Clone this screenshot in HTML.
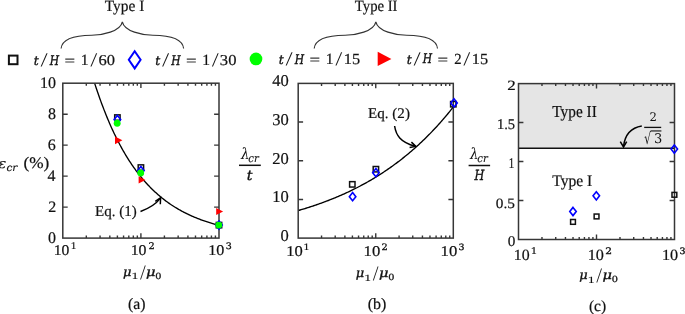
<!DOCTYPE html><html><head><meta charset="utf-8"><title>figure</title><style>html,body{margin:0;padding:0;background:#fff;overflow:hidden}svg{display:block}</style></head><body><svg width="685" height="314" viewBox="0 0 685 314">
<rect width="685" height="314" fill="#fff"/>
<path d="M61.10 48.50 C62.10 38.50 76.10 35.50 91.72 35.30 C102.35 35.10 120.35 31.50 122.35 21.80 C124.35 31.50 142.35 35.10 152.97 35.30 C168.60 35.50 182.60 38.50 183.60 48.50" fill="none" stroke="#333" stroke-width="1.15"/>
<path d="M314.20 48.50 C315.20 38.50 329.20 35.50 345.02 35.30 C355.85 35.10 373.85 31.50 375.85 21.80 C377.85 31.50 395.85 35.10 406.68 35.30 C422.50 35.50 436.50 38.50 437.50 48.50" fill="none" stroke="#333" stroke-width="1.15"/>
<rect x="8.9" y="55.6" width="8.6" height="8.6" fill="none" stroke="#111" stroke-width="2"/>
<path d="M134.7 51.2L140.6 59.8L134.7 68.4L128.8 59.8Z" fill="none" stroke="#0000ff" stroke-width="2"/>
<circle cx="256.00" cy="58.95" r="6.35" fill="#00ff00"/>
<path d="M377.7 51.8L391.4 58.9L377.7 66Z" fill="#ff0000"/>
<path d="M94.63 83.20 L95.41 85.60 L96.18 87.95 L96.96 90.28 L97.74 92.56 L98.52 94.81 L99.29 97.03 L100.07 99.21 L100.85 101.36 L101.62 103.47 L102.40 105.55 L103.18 107.60 L103.96 109.62 L104.73 111.61 L105.51 113.56 L106.29 115.49 L107.07 117.38 L107.84 119.25 L108.62 121.09 L109.40 122.90 L110.18 124.68 L110.95 126.43 L111.73 128.16 L112.51 129.86 L113.28 131.53 L114.06 133.18 L114.84 134.80 L115.62 136.40 L116.39 137.97 L117.17 139.52 L117.95 141.05 L118.73 142.55 L119.50 144.02 L120.28 145.48 L121.06 146.91 L121.84 148.32 L122.61 149.71 L123.39 151.08 L124.17 152.42 L124.94 153.75 L125.72 155.05 L126.50 156.34 L127.28 157.60 L128.05 158.84 L128.83 160.07 L129.61 161.28 L130.39 162.46 L131.16 163.63 L131.94 164.79 L132.72 165.92 L133.49 167.04 L134.27 168.13 L135.05 169.22 L135.83 170.28 L136.60 171.33 L137.38 172.36 L138.16 173.38 L138.94 174.38 L139.71 175.36 L140.49 176.34 L141.27 177.29 L142.05 178.23 L142.82 179.16 L143.60 180.07 L144.38 180.96 L145.15 181.85 L145.93 182.72 L146.71 183.57 L147.49 184.42 L148.26 185.25 L149.04 186.07 L149.82 186.87 L150.60 187.66 L151.37 188.44 L152.15 189.21 L152.93 189.97 L153.71 190.71 L154.48 191.44 L155.26 192.16 L156.04 192.87 L156.81 193.57 L157.59 194.26 L158.37 194.94 L159.15 195.61 L159.92 196.26 L160.70 196.91 L161.48 197.55 L162.26 198.18 L163.03 198.79 L163.81 199.40 L164.59 200.00 L165.37 200.59 L166.14 201.17 L166.92 201.74 L167.70 202.30 L168.47 202.86 L169.25 203.40 L170.03 203.94 L170.81 204.46 L171.58 204.99 L172.36 205.50 L173.14 206.00 L173.92 206.50 L174.69 206.99 L175.47 207.47 L176.25 207.94 L177.02 208.41 L177.80 208.87 L178.58 209.32 L179.36 209.76 L180.13 210.20 L180.91 210.63 L181.69 211.06 L182.47 211.48 L183.24 211.89 L184.02 212.29 L184.80 212.69 L185.58 213.08 L186.35 213.47 L187.13 213.85 L187.91 214.23 L188.68 214.60 L189.46 214.96 L190.24 215.32 L191.02 215.67 L191.79 216.02 L192.57 216.36 L193.35 216.69 L194.13 217.03 L194.90 217.35 L195.68 217.67 L196.46 217.99 L197.24 218.30 L198.01 218.61 L198.79 218.91 L199.57 219.20 L200.34 219.50 L201.12 219.78 L201.90 220.07 L202.68 220.35 L203.45 220.62 L204.23 220.89 L205.01 221.16 L205.79 221.42 L206.56 221.68 L207.34 221.93 L208.12 222.18 L208.89 222.43 L209.67 222.67 L210.45 222.91 L211.23 223.14 L212.00 223.37 L212.78 223.60 L213.56 223.83 L214.34 224.05 L215.11 224.26 L215.89 224.48 L216.67 224.69 L217.45 224.90 L218.22 225.10 L219.00 225.30" fill="none" stroke="#000" stroke-width="1.35"/>
<path d="M86.31 238.10L86.31 235.60 M86.31 83.20L86.31 85.70 M100.06 238.10L100.06 235.60 M100.06 83.20L100.06 85.70 M109.82 238.10L109.82 235.60 M109.82 83.20L109.82 85.70 M117.39 238.10L117.39 235.60 M117.39 83.20L117.39 85.70 M123.57 238.10L123.57 235.60 M123.57 83.20L123.57 85.70 M128.80 238.10L128.80 235.60 M128.80 83.20L128.80 85.70 M133.33 238.10L133.33 235.60 M133.33 83.20L133.33 85.70 M137.33 238.10L137.33 235.60 M137.33 83.20L137.33 85.70 M140.90 238.10L140.90 233.20 M140.90 83.20L140.90 88.10 M164.41 238.10L164.41 235.60 M164.41 83.20L164.41 85.70 M178.16 238.10L178.16 235.60 M178.16 83.20L178.16 85.70 M187.92 238.10L187.92 235.60 M187.92 83.20L187.92 85.70 M195.49 238.10L195.49 235.60 M195.49 83.20L195.49 85.70 M201.67 238.10L201.67 235.60 M201.67 83.20L201.67 85.70 M206.90 238.10L206.90 235.60 M206.90 83.20L206.90 85.70 M211.43 238.10L211.43 235.60 M211.43 83.20L211.43 85.70 M215.43 238.10L215.43 235.60 M215.43 83.20L215.43 85.70 M62.80 207.12L67.70 207.12 M219.00 207.12L214.10 207.12 M62.80 176.14L67.70 176.14 M219.00 176.14L214.10 176.14 M62.80 145.16L67.70 145.16 M219.00 145.16L214.10 145.16 M62.80 114.18L67.70 114.18 M219.00 114.18L214.10 114.18" stroke="#363636" stroke-width="1.40" fill="none"/>
<rect x="62.80" y="83.20" width="156.20" height="154.90" fill="none" stroke="#363636" stroke-width="1.50"/>
<rect x="114.69" y="114.85" width="5.40" height="5.40" fill="none" stroke="#111" stroke-width="1.50"/>
<rect x="138.20" y="164.85" width="5.40" height="5.40" fill="none" stroke="#111" stroke-width="1.50"/>
<rect x="216.30" y="222.40" width="5.40" height="5.40" fill="none" stroke="#111" stroke-width="1.50"/>
<path d="M117.39 115.40L120.64 119.50L117.39 123.60L114.14 119.50Z" fill="none" stroke="#0000ff" stroke-width="1.60"/>
<path d="M140.90 166.50L144.15 170.60L140.90 174.70L137.65 170.60Z" fill="none" stroke="#0000ff" stroke-width="1.60"/>
<path d="M219.00 221.00L222.25 225.10L219.00 229.20L215.75 225.10Z" fill="none" stroke="#0000ff" stroke-width="1.60"/>
<circle cx="117.19" cy="123.30" r="3.45" fill="#00ff00"/>
<circle cx="140.70" cy="173.00" r="3.45" fill="#00ff00"/>
<circle cx="218.80" cy="225.10" r="3.45" fill="#00ff00"/>
<path d="M115.00 136.40L122.40 140.30L115.00 144.20Z" fill="#ff0000"/>
<path d="M138.60 176.20L145.40 179.90L138.60 183.60Z" fill="#ff0000"/>
<path d="M216.20 208.00L223.10 211.55L216.20 215.10Z" fill="#ff0000"/>
<path d="M140.5 211.5 C146 209.5 154 206.5 160.3 198.4" fill="none" stroke="#000" stroke-width="1.5"/>
<path d="M155.3 201.4 L160.6 197.8 L160.3 204.2" fill="none" stroke="#000" stroke-width="1.5"/>
<path d="M298.20 210.55 L299.17 210.27 L300.14 209.99 L301.11 209.71 L302.08 209.42 L303.05 209.13 L304.02 208.83 L304.99 208.54 L305.95 208.24 L306.92 207.94 L307.89 207.63 L308.86 207.32 L309.83 207.01 L310.80 206.70 L311.77 206.38 L312.74 206.06 L313.71 205.74 L314.68 205.41 L315.65 205.08 L316.62 204.75 L317.59 204.41 L318.56 204.07 L319.53 203.73 L320.50 203.39 L321.46 203.04 L322.43 202.68 L323.40 202.33 L324.37 201.97 L325.34 201.61 L326.31 201.24 L327.28 200.87 L328.25 200.50 L329.22 200.12 L330.19 199.74 L331.16 199.36 L332.13 198.97 L333.10 198.58 L334.07 198.18 L335.04 197.78 L336.01 197.38 L336.98 196.98 L337.94 196.57 L338.91 196.15 L339.88 195.73 L340.85 195.31 L341.82 194.89 L342.79 194.45 L343.76 194.02 L344.73 193.58 L345.70 193.14 L346.67 192.69 L347.64 192.24 L348.61 191.79 L349.58 191.33 L350.55 190.86 L351.52 190.40 L352.49 189.92 L353.45 189.45 L354.42 188.96 L355.39 188.48 L356.36 187.99 L357.33 187.49 L358.30 186.99 L359.27 186.49 L360.24 185.98 L361.21 185.46 L362.18 184.94 L363.15 184.42 L364.12 183.89 L365.09 183.36 L366.06 182.82 L367.03 182.27 L368.00 181.72 L368.96 181.17 L369.93 180.61 L370.90 180.05 L371.87 179.48 L372.84 178.90 L373.81 178.32 L374.78 177.73 L375.75 177.14 L376.72 176.54 L377.69 175.94 L378.66 175.33 L379.63 174.72 L380.60 174.10 L381.57 173.47 L382.54 172.84 L383.50 172.21 L384.47 171.56 L385.44 170.91 L386.41 170.26 L387.38 169.60 L388.35 168.93 L389.32 168.26 L390.29 167.58 L391.26 166.89 L392.23 166.20 L393.20 165.50 L394.17 164.79 L395.14 164.08 L396.11 163.36 L397.08 162.64 L398.05 161.91 L399.01 161.17 L399.98 160.42 L400.95 159.67 L401.92 158.91 L402.89 158.15 L403.86 157.37 L404.83 156.59 L405.80 155.81 L406.77 155.01 L407.74 154.21 L408.71 153.40 L409.68 152.58 L410.65 151.76 L411.62 150.93 L412.59 150.09 L413.56 149.24 L414.52 148.39 L415.49 147.52 L416.46 146.65 L417.43 145.77 L418.40 144.89 L419.37 143.99 L420.34 143.09 L421.31 142.18 L422.28 141.26 L423.25 140.33 L424.22 139.40 L425.19 138.45 L426.16 137.50 L427.13 136.54 L428.10 135.57 L429.07 134.59 L430.04 133.60 L431.00 132.60 L431.97 131.60 L432.94 130.58 L433.91 129.56 L434.88 128.52 L435.85 127.48 L436.82 126.43 L437.79 125.36 L438.76 124.29 L439.73 123.21 L440.70 122.12 L441.67 121.02 L442.64 119.91 L443.61 118.79 L444.58 117.66 L445.55 116.51 L446.51 115.36 L447.48 114.20 L448.45 113.03 L449.42 111.85 L450.39 110.65 L451.36 109.45 L452.33 108.23 L453.30 107.01" fill="none" stroke="#000" stroke-width="1.35"/>
<path d="M321.54 238.10L321.54 235.60 M321.54 83.40L321.54 85.90 M335.20 238.10L335.20 235.60 M335.20 83.40L335.20 85.90 M344.89 238.10L344.89 235.60 M344.89 83.40L344.89 85.90 M352.41 238.10L352.41 235.60 M352.41 83.40L352.41 85.90 M358.55 238.10L358.55 235.60 M358.55 83.40L358.55 85.90 M363.74 238.10L363.74 235.60 M363.74 83.40L363.74 85.90 M368.23 238.10L368.23 235.60 M368.23 83.40L368.23 85.90 M372.20 238.10L372.20 235.60 M372.20 83.40L372.20 85.90 M375.75 238.10L375.75 233.20 M375.75 83.40L375.75 88.30 M399.09 238.10L399.09 235.60 M399.09 83.40L399.09 85.90 M412.75 238.10L412.75 235.60 M412.75 83.40L412.75 85.90 M422.44 238.10L422.44 235.60 M422.44 83.40L422.44 85.90 M429.96 238.10L429.96 235.60 M429.96 83.40L429.96 85.90 M436.10 238.10L436.10 235.60 M436.10 83.40L436.10 85.90 M441.29 238.10L441.29 235.60 M441.29 83.40L441.29 85.90 M445.78 238.10L445.78 235.60 M445.78 83.40L445.78 85.90 M449.75 238.10L449.75 235.60 M449.75 83.40L449.75 85.90 M298.20 199.43L303.10 199.43 M453.30 199.43L448.40 199.43 M298.20 160.75L303.10 160.75 M453.30 160.75L448.40 160.75 M298.20 122.07L303.10 122.07 M453.30 122.07L448.40 122.07" stroke="#363636" stroke-width="1.40" fill="none"/>
<rect x="298.20" y="83.40" width="155.10" height="154.70" fill="none" stroke="#363636" stroke-width="1.50"/>
<rect x="349.60" y="181.65" width="5.40" height="5.40" fill="none" stroke="#111" stroke-width="1.50"/>
<rect x="373.20" y="166.50" width="5.40" height="5.40" fill="none" stroke="#111" stroke-width="1.50"/>
<rect x="450.60" y="101.50" width="5.40" height="5.40" fill="none" stroke="#111" stroke-width="1.50"/>
<path d="M352.60 192.60L355.85 196.70L352.60 200.80L349.35 196.70Z" fill="none" stroke="#0000ff" stroke-width="1.60"/>
<path d="M375.90 168.60L379.15 172.70L375.90 176.80L372.65 172.70Z" fill="none" stroke="#0000ff" stroke-width="1.60"/>
<path d="M454.00 98.85L457.25 102.95L454.00 107.05L450.75 102.95Z" fill="none" stroke="#0000ff" stroke-width="1.60"/>
<path d="M394.6 126 C396 135 400 142 415.3 146.3" fill="none" stroke="#000" stroke-width="1.5"/>
<path d="M411.4 142.1 L415.8 146.4 L409.6 147.6" fill="none" stroke="#000" stroke-width="1.5"/>
<rect x="239.0" y="164.55" width="21.8" height="1.5" fill="#111"/>
<rect x="518.50" y="83.60" width="156.00" height="64.60" fill="#e5e5e5"/>
<path d="M518.50 148.20L674.50 148.20" stroke="#111" stroke-width="1.5"/>
<path d="M541.98 239.50L541.98 237.00 M541.98 83.60L541.98 86.10 M555.72 239.50L555.72 237.00 M555.72 83.60L555.72 86.10 M565.46 239.50L565.46 237.00 M565.46 83.60L565.46 86.10 M573.02 239.50L573.02 237.00 M573.02 83.60L573.02 86.10 M579.20 239.50L579.20 237.00 M579.20 83.60L579.20 86.10 M584.42 239.50L584.42 237.00 M584.42 83.60L584.42 86.10 M588.94 239.50L588.94 237.00 M588.94 83.60L588.94 86.10 M592.93 239.50L592.93 237.00 M592.93 83.60L592.93 86.10 M596.50 239.50L596.50 234.60 M596.50 83.60L596.50 88.50 M619.98 239.50L619.98 237.00 M619.98 83.60L619.98 86.10 M633.72 239.50L633.72 237.00 M633.72 83.60L633.72 86.10 M643.46 239.50L643.46 237.00 M643.46 83.60L643.46 86.10 M651.02 239.50L651.02 237.00 M651.02 83.60L651.02 86.10 M657.20 239.50L657.20 237.00 M657.20 83.60L657.20 86.10 M662.42 239.50L662.42 237.00 M662.42 83.60L662.42 86.10 M666.94 239.50L666.94 237.00 M666.94 83.60L666.94 86.10 M670.93 239.50L670.93 237.00 M670.93 83.60L670.93 86.10 M518.50 200.53L523.40 200.53 M674.50 200.53L669.60 200.53 M518.50 161.55L523.40 161.55 M674.50 161.55L669.60 161.55 M518.50 122.57L523.40 122.57 M674.50 122.57L669.60 122.57" stroke="#363636" stroke-width="1.40" fill="none"/>
<rect x="518.50" y="83.60" width="156.00" height="155.90" fill="none" stroke="#363636" stroke-width="1.50"/>
<rect x="570.60" y="219.50" width="4.80" height="4.80" fill="none" stroke="#111" stroke-width="1.50"/>
<rect x="594.15" y="214.05" width="4.80" height="4.80" fill="none" stroke="#111" stroke-width="1.50"/>
<rect x="672.00" y="192.40" width="4.80" height="4.80" fill="none" stroke="#111" stroke-width="1.50"/>
<path d="M573.00 207.40L576.25 211.50L573.00 215.60L569.75 211.50Z" fill="none" stroke="#0000ff" stroke-width="1.60"/>
<path d="M596.30 191.70L599.55 195.80L596.30 199.90L593.05 195.80Z" fill="none" stroke="#0000ff" stroke-width="1.60"/>
<path d="M674.30 145.00L677.55 149.10L674.30 153.20L671.05 149.10Z" fill="none" stroke="#0000ff" stroke-width="1.60"/>
<rect x="644.2" y="126.75" width="17" height="1.3" fill="#111"/>
<rect x="650.6" y="130.4" width="10.8" height="1.1" fill="#111"/>
<path d="M641.8 126 C632 127.5 625 134 623.5 146.5" fill="none" stroke="#000" stroke-width="1.5"/>
<path d="M620.3 141.7 L623.5 147 L626.7 141.7" fill="none" stroke="#000" stroke-width="1.5"/>
<rect x="468.6" y="164.75" width="21.5" height="1.5" fill="#111"/>
<g fill="#111" text-rendering="geometricPrecision">
<text x="104.79" y="10.88" font-size="15.81" font-family='"Liberation Serif", "Times New Roman", serif' textLength="39.51" lengthAdjust="spacingAndGlyphs" stroke="#111" stroke-width="0.20">Type I</text>
<text x="354.81" y="10.88" font-size="15.81" font-family='"Liberation Serif", "Times New Roman", serif' textLength="42.72" lengthAdjust="spacingAndGlyphs" stroke="#111" stroke-width="0.20">Type II</text>
<text x="33.72" y="64.61" font-size="12.52" font-family='"DejaVu Serif", serif' font-style="italic" textLength="4.94" lengthAdjust="spacingAndGlyphs" stroke="#111" stroke-width="0.35">t</text>
<text x="41.69" y="64.87" font-size="16.12" font-family='"DejaVu Serif Condensed", "DejaVu Serif", serif' font-style="italic" textLength="4.70" lengthAdjust="spacingAndGlyphs">/</text>
<text x="49.68" y="64.50" font-size="13.29" font-family='"DejaVu Serif Condensed", "DejaVu Serif", serif' font-style="italic" textLength="9.34" lengthAdjust="spacingAndGlyphs" stroke="#111" stroke-width="0.35">H</text>
<text x="63.87" y="65.10" font-size="14.29" font-family='"DejaVu Serif Condensed", "DejaVu Serif", serif' textLength="12.14" lengthAdjust="spacingAndGlyphs" fill="#3a3a3a">=</text>
<text x="80.71" y="64.80" font-size="15.57" font-family='"Liberation Serif", "Times New Roman", serif' stroke="#111" stroke-width="0.20">1</text>
<text x="91.55" y="64.87" font-size="16.12" font-family='"DejaVu Serif Condensed", "DejaVu Serif", serif' font-style="italic" textLength="4.57" lengthAdjust="spacingAndGlyphs">/</text>
<text x="98.46" y="64.65" font-size="15.11" font-family='"Liberation Serif", "Times New Roman", serif' textLength="16.50" lengthAdjust="spacingAndGlyphs" stroke="#111" stroke-width="0.20">60</text>
<text x="155.22" y="64.61" font-size="12.52" font-family='"DejaVu Serif", serif' font-style="italic" textLength="4.94" lengthAdjust="spacingAndGlyphs" stroke="#111" stroke-width="0.35">t</text>
<text x="163.19" y="64.87" font-size="16.12" font-family='"DejaVu Serif Condensed", "DejaVu Serif", serif' font-style="italic" textLength="4.70" lengthAdjust="spacingAndGlyphs">/</text>
<text x="171.18" y="64.50" font-size="13.29" font-family='"DejaVu Serif Condensed", "DejaVu Serif", serif' font-style="italic" textLength="9.34" lengthAdjust="spacingAndGlyphs" stroke="#111" stroke-width="0.35">H</text>
<text x="185.37" y="65.10" font-size="14.29" font-family='"DejaVu Serif Condensed", "DejaVu Serif", serif' textLength="12.14" lengthAdjust="spacingAndGlyphs" fill="#3a3a3a">=</text>
<text x="202.21" y="64.80" font-size="15.57" font-family='"Liberation Serif", "Times New Roman", serif' stroke="#111" stroke-width="0.20">1</text>
<text x="213.05" y="64.87" font-size="16.12" font-family='"DejaVu Serif Condensed", "DejaVu Serif", serif' font-style="italic" textLength="4.57" lengthAdjust="spacingAndGlyphs">/</text>
<text x="219.87" y="64.65" font-size="15.11" font-family='"Liberation Serif", "Times New Roman", serif' textLength="16.59" lengthAdjust="spacingAndGlyphs" stroke="#111" stroke-width="0.20">30</text>
<text x="278.72" y="63.61" font-size="12.52" font-family='"DejaVu Serif", serif' font-style="italic" textLength="4.94" lengthAdjust="spacingAndGlyphs" stroke="#111" stroke-width="0.35">t</text>
<text x="286.69" y="63.87" font-size="16.12" font-family='"DejaVu Serif Condensed", "DejaVu Serif", serif' font-style="italic" textLength="4.70" lengthAdjust="spacingAndGlyphs">/</text>
<text x="294.68" y="63.50" font-size="13.29" font-family='"DejaVu Serif Condensed", "DejaVu Serif", serif' font-style="italic" textLength="9.34" lengthAdjust="spacingAndGlyphs" stroke="#111" stroke-width="0.35">H</text>
<text x="308.87" y="64.10" font-size="14.29" font-family='"DejaVu Serif Condensed", "DejaVu Serif", serif' textLength="12.14" lengthAdjust="spacingAndGlyphs" fill="#3a3a3a">=</text>
<text x="325.71" y="63.80" font-size="15.57" font-family='"Liberation Serif", "Times New Roman", serif' stroke="#111" stroke-width="0.20">1</text>
<text x="336.55" y="63.87" font-size="16.12" font-family='"DejaVu Serif Condensed", "DejaVu Serif", serif' font-style="italic" textLength="4.57" lengthAdjust="spacingAndGlyphs">/</text>
<text x="343.73" y="63.65" font-size="15.34" font-family='"Liberation Serif", "Times New Roman", serif' textLength="16.32" lengthAdjust="spacingAndGlyphs" stroke="#111" stroke-width="0.20">15</text>
<text x="406.72" y="63.51" font-size="12.52" font-family='"DejaVu Serif", serif' font-style="italic" textLength="4.94" lengthAdjust="spacingAndGlyphs" stroke="#111" stroke-width="0.35">t</text>
<text x="414.69" y="63.77" font-size="16.12" font-family='"DejaVu Serif Condensed", "DejaVu Serif", serif' font-style="italic" textLength="4.70" lengthAdjust="spacingAndGlyphs">/</text>
<text x="422.68" y="63.40" font-size="13.29" font-family='"DejaVu Serif Condensed", "DejaVu Serif", serif' font-style="italic" textLength="9.34" lengthAdjust="spacingAndGlyphs" stroke="#111" stroke-width="0.35">H</text>
<text x="436.87" y="64.00" font-size="14.29" font-family='"DejaVu Serif Condensed", "DejaVu Serif", serif' textLength="12.14" lengthAdjust="spacingAndGlyphs" fill="#3a3a3a">=</text>
<text x="454.34" y="63.70" font-size="15.45" font-family='"Liberation Serif", "Times New Roman", serif' textLength="7.38" lengthAdjust="spacingAndGlyphs" stroke="#111" stroke-width="0.20">2</text>
<text x="464.55" y="63.77" font-size="16.12" font-family='"DejaVu Serif Condensed", "DejaVu Serif", serif' font-style="italic" textLength="4.57" lengthAdjust="spacingAndGlyphs">/</text>
<text x="471.73" y="63.55" font-size="15.34" font-family='"Liberation Serif", "Times New Roman", serif' textLength="16.32" lengthAdjust="spacingAndGlyphs" stroke="#111" stroke-width="0.20">15</text>
<text x="47.94" y="242.74" font-size="16.00" font-family='"Liberation Serif", "Times New Roman", serif' stroke="#111" stroke-width="0.20">0</text>
<text x="48.18" y="211.80" font-size="16.00" font-family='"Liberation Serif", "Times New Roman", serif' stroke="#111" stroke-width="0.20">2</text>
<text x="47.54" y="180.82" font-size="16.00" font-family='"Liberation Serif", "Times New Roman", serif' stroke="#111" stroke-width="0.20">4</text>
<text x="47.78" y="149.76" font-size="16.00" font-family='"Liberation Serif", "Times New Roman", serif' stroke="#111" stroke-width="0.20">6</text>
<text x="47.94" y="118.82" font-size="16.00" font-family='"Liberation Serif", "Times New Roman", serif' stroke="#111" stroke-width="0.20">8</text>
<text x="39.94" y="87.84" font-size="16.00" font-family='"Liberation Serif", "Times New Roman", serif' stroke="#111" stroke-width="0.20">10</text>
<text x="95.05" y="216.35" font-size="15.00" font-family='"Liberation Serif", "Times New Roman", serif' stroke="#111" stroke-width="0.20">Eq. (1)</text>
<text x="-1.56" y="167.73" font-size="13.39" font-family='"DejaVu Serif", serif' font-style="italic" textLength="7.80" lengthAdjust="spacingAndGlyphs" stroke="#111" stroke-width="0.15">ε</text>
<text x="6.42" y="171.45" font-size="10.18" font-family='"DejaVu Serif", serif' font-style="italic" textLength="10.98" lengthAdjust="spacingAndGlyphs" stroke="#111" stroke-width="0.15">cr</text>
<text x="23.42" y="168.22" font-size="16.11" font-family='"Liberation Serif", "Times New Roman", serif' textLength="25.83" lengthAdjust="spacingAndGlyphs" stroke="#111" stroke-width="0.20">(%)</text>
<text x="53.69" y="254.95" font-size="14.96" font-family='"Liberation Serif", "Times New Roman", serif' textLength="15.63" lengthAdjust="spacingAndGlyphs" stroke="#111" stroke-width="0.20">10</text>
<text x="70.58" y="249.40" font-size="9.13" font-family='"DejaVu Serif", serif' textLength="6.45" lengthAdjust="spacingAndGlyphs" stroke="#111" stroke-width="0.12">1</text>
<text x="130.67" y="254.95" font-size="14.96" font-family='"Liberation Serif", "Times New Roman", serif' textLength="15.86" lengthAdjust="spacingAndGlyphs" stroke="#111" stroke-width="0.20">10</text>
<text x="148.41" y="249.40" font-size="9.13" font-family='"DejaVu Serif", serif' textLength="6.23" lengthAdjust="spacingAndGlyphs" stroke="#111" stroke-width="0.30">2</text>
<text x="208.15" y="254.95" font-size="14.96" font-family='"Liberation Serif", "Times New Roman", serif' textLength="16.09" lengthAdjust="spacingAndGlyphs" stroke="#111" stroke-width="0.20">10</text>
<text x="225.69" y="249.27" font-size="8.95" font-family='"DejaVu Serif", serif' textLength="6.03" lengthAdjust="spacingAndGlyphs" stroke="#111" stroke-width="0.30">3</text>
<text x="122.92" y="276.02" font-size="12.74" font-family='"DejaVu Serif", serif' font-style="italic" textLength="8.43" lengthAdjust="spacingAndGlyphs" stroke="#111" stroke-width="0.35">μ</text>
<text x="130.93" y="279.30" font-size="8.59" font-family='"DejaVu Serif", serif' textLength="8.31" lengthAdjust="spacingAndGlyphs" stroke="#111" stroke-width="0.01">1</text>
<text x="140.88" y="277.78" font-size="17.09" font-family='"DejaVu Serif Condensed", "DejaVu Serif", serif' font-style="italic" textLength="3.82" lengthAdjust="spacingAndGlyphs">/</text>
<text x="146.14" y="276.02" font-size="12.74" font-family='"DejaVu Serif", serif' font-style="italic" textLength="9.49" lengthAdjust="spacingAndGlyphs" stroke="#111" stroke-width="0.35">μ</text>
<text x="155.37" y="279.27" font-size="8.55" font-family='"DejaVu Serif", serif' textLength="6.17" lengthAdjust="spacingAndGlyphs" stroke="#111" stroke-width="0.30">0</text>
<text x="128.09" y="308.89" font-size="15.78" font-family='"Liberation Serif", "Times New Roman", serif' stroke="#111" stroke-width="0.20">(a)</text>
<text x="280.51" y="241.00" font-size="16.50" font-family='"Liberation Serif", "Times New Roman", serif' stroke="#111" stroke-width="0.20">0</text>
<text x="272.26" y="202.33" font-size="16.50" font-family='"Liberation Serif", "Times New Roman", serif' stroke="#111" stroke-width="0.20">10</text>
<text x="272.26" y="163.65" font-size="16.50" font-family='"Liberation Serif", "Times New Roman", serif' stroke="#111" stroke-width="0.20">20</text>
<text x="272.26" y="124.98" font-size="16.50" font-family='"Liberation Serif", "Times New Roman", serif' stroke="#111" stroke-width="0.20">30</text>
<text x="272.26" y="86.30" font-size="16.50" font-family='"Liberation Serif", "Times New Roman", serif' stroke="#111" stroke-width="0.20">40</text>
<text x="368.05" y="117.60" font-size="14.78" font-family='"Liberation Serif", "Times New Roman", serif' textLength="41.88" lengthAdjust="spacingAndGlyphs" stroke="#111" stroke-width="0.20">Eq. (2)</text>
<text x="240.95" y="159.00" font-size="15.42" font-family='"DejaVu Serif Condensed", "DejaVu Serif", serif' font-style="italic" textLength="8.53" lengthAdjust="spacingAndGlyphs">λ</text>
<text x="248.25" y="161.74" font-size="10.91" font-family='"DejaVu Serif", serif' font-style="italic" textLength="10.48" lengthAdjust="spacingAndGlyphs" stroke="#111" stroke-width="0.15">cr</text>
<text x="246.71" y="180.39" font-size="13.67" font-family='"DejaVu Serif", serif' font-style="italic" textLength="5.74" lengthAdjust="spacingAndGlyphs" stroke="#111" stroke-width="0.35">t</text>
<text x="286.31" y="256.25" font-size="14.96" font-family='"Liberation Serif", "Times New Roman", serif' textLength="16.55" lengthAdjust="spacingAndGlyphs" stroke="#111" stroke-width="0.20">10</text>
<text x="303.35" y="250.30" font-size="8.86" font-family='"DejaVu Serif", serif' textLength="6.62" lengthAdjust="spacingAndGlyphs" stroke="#111" stroke-width="0.12">1</text>
<text x="363.60" y="256.25" font-size="14.96" font-family='"Liberation Serif", "Times New Roman", serif' textLength="16.67" lengthAdjust="spacingAndGlyphs" stroke="#111" stroke-width="0.20">10</text>
<text x="381.51" y="250.30" font-size="8.86" font-family='"DejaVu Serif", serif' textLength="6.23" lengthAdjust="spacingAndGlyphs" stroke="#111" stroke-width="0.30">2</text>
<text x="440.60" y="256.25" font-size="14.96" font-family='"Liberation Serif", "Times New Roman", serif' textLength="16.67" lengthAdjust="spacingAndGlyphs" stroke="#111" stroke-width="0.20">10</text>
<text x="458.49" y="250.17" font-size="8.68" font-family='"DejaVu Serif", serif' textLength="6.03" lengthAdjust="spacingAndGlyphs" stroke="#111" stroke-width="0.30">3</text>
<text x="355.72" y="277.22" font-size="12.74" font-family='"DejaVu Serif", serif' font-style="italic" textLength="8.43" lengthAdjust="spacingAndGlyphs" stroke="#111" stroke-width="0.35">μ</text>
<text x="363.73" y="280.50" font-size="8.59" font-family='"DejaVu Serif", serif' textLength="8.31" lengthAdjust="spacingAndGlyphs" stroke="#111" stroke-width="0.01">1</text>
<text x="373.68" y="278.98" font-size="17.09" font-family='"DejaVu Serif Condensed", "DejaVu Serif", serif' font-style="italic" textLength="3.82" lengthAdjust="spacingAndGlyphs">/</text>
<text x="378.94" y="277.22" font-size="12.74" font-family='"DejaVu Serif", serif' font-style="italic" textLength="9.49" lengthAdjust="spacingAndGlyphs" stroke="#111" stroke-width="0.35">μ</text>
<text x="388.17" y="280.47" font-size="8.55" font-family='"DejaVu Serif", serif' textLength="6.17" lengthAdjust="spacingAndGlyphs" stroke="#111" stroke-width="0.30">0</text>
<text x="367.68" y="308.89" font-size="15.78" font-family='"Liberation Serif", "Times New Roman", serif' textLength="18.66" lengthAdjust="spacingAndGlyphs" stroke="#111" stroke-width="0.20">(b)</text>
<text x="507.24" y="89.50" font-size="14.09" font-family='"Liberation Serif", "Times New Roman", serif' textLength="8.50" lengthAdjust="spacingAndGlyphs" stroke="#111" stroke-width="0.20">2</text>
<text x="496.89" y="128.88" font-size="14.85" font-family='"Liberation Serif", "Times New Roman", serif' textLength="18.19" lengthAdjust="spacingAndGlyphs" stroke="#111" stroke-width="0.20">1.5</text>
<text x="508.72" y="168.20" font-size="14.96" font-family='"Liberation Serif", "Times New Roman", serif' textLength="5.43" lengthAdjust="spacingAndGlyphs" stroke="#111" stroke-width="0.20">1</text>
<text x="495.89" y="207.69" font-size="14.26" font-family='"Liberation Serif", "Times New Roman", serif' textLength="19.12" lengthAdjust="spacingAndGlyphs" stroke="#111" stroke-width="0.20">0.5</text>
<text x="507.79" y="246.35" font-size="14.81" font-family='"Liberation Serif", "Times New Roman", serif' textLength="7.62" lengthAdjust="spacingAndGlyphs" stroke="#111" stroke-width="0.20">0</text>
<text x="552.29" y="117.18" font-size="16.74" font-family='"Liberation Serif", "Times New Roman", serif' textLength="44.46" lengthAdjust="spacingAndGlyphs" stroke="#111" stroke-width="0.20">Type II</text>
<text x="552.29" y="185.81" font-size="16.16" font-family='"Liberation Serif", "Times New Roman", serif' textLength="40.02" lengthAdjust="spacingAndGlyphs" stroke="#111" stroke-width="0.20">Type I</text>
<text x="649.62" y="120.60" font-size="11.95" font-family='"DejaVu Serif Condensed", "DejaVu Serif", serif' textLength="7.41" lengthAdjust="spacingAndGlyphs">2</text>
<text x="644.25" y="143.88" font-size="16.14" font-family='"DejaVu Serif Condensed", "DejaVu Serif", serif' textLength="6.73" lengthAdjust="spacingAndGlyphs">√</text>
<text x="653.99" y="142.70" font-size="13.42" font-family='"DejaVu Serif Condensed", "DejaVu Serif", serif' textLength="8.29" lengthAdjust="spacingAndGlyphs">3</text>
<text x="469.95" y="159.20" font-size="15.42" font-family='"DejaVu Serif Condensed", "DejaVu Serif", serif' font-style="italic" textLength="8.53" lengthAdjust="spacingAndGlyphs">λ</text>
<text x="477.25" y="161.94" font-size="10.91" font-family='"DejaVu Serif", serif' font-style="italic" textLength="10.48" lengthAdjust="spacingAndGlyphs" stroke="#111" stroke-width="0.15">cr</text>
<text x="474.59" y="180.40" font-size="14.11" font-family='"DejaVu Serif Condensed", "DejaVu Serif", serif' font-style="italic" textLength="9.82" lengthAdjust="spacingAndGlyphs" stroke="#111" stroke-width="0.35">H</text>
<text x="513.87" y="259.64" font-size="15.56" font-family='"Liberation Serif", "Times New Roman", serif' textLength="15.86" lengthAdjust="spacingAndGlyphs" stroke="#111" stroke-width="0.20">10</text>
<text x="530.46" y="253.90" font-size="8.99" font-family='"DejaVu Serif", serif' textLength="7.13" lengthAdjust="spacingAndGlyphs" stroke="#111" stroke-width="0.12">1</text>
<text x="587.74" y="259.64" font-size="15.56" font-family='"Liberation Serif", "Times New Roman", serif' textLength="16.21" lengthAdjust="spacingAndGlyphs" stroke="#111" stroke-width="0.20">10</text>
<text x="605.26" y="253.90" font-size="8.99" font-family='"DejaVu Serif", serif' textLength="6.77" lengthAdjust="spacingAndGlyphs" stroke="#111" stroke-width="0.30">2</text>
<text x="661.94" y="259.64" font-size="15.56" font-family='"Liberation Serif", "Times New Roman", serif' textLength="16.21" lengthAdjust="spacingAndGlyphs" stroke="#111" stroke-width="0.20">10</text>
<text x="679.49" y="253.77" font-size="8.82" font-family='"DejaVu Serif", serif' textLength="6.03" lengthAdjust="spacingAndGlyphs" stroke="#111" stroke-width="0.30">3</text>
<text x="579.22" y="279.22" font-size="12.74" font-family='"DejaVu Serif", serif' font-style="italic" textLength="8.43" lengthAdjust="spacingAndGlyphs" stroke="#111" stroke-width="0.35">μ</text>
<text x="587.23" y="282.50" font-size="8.59" font-family='"DejaVu Serif", serif' textLength="8.31" lengthAdjust="spacingAndGlyphs" stroke="#111" stroke-width="0.01">1</text>
<text x="597.18" y="280.98" font-size="17.09" font-family='"DejaVu Serif Condensed", "DejaVu Serif", serif' font-style="italic" textLength="3.82" lengthAdjust="spacingAndGlyphs">/</text>
<text x="602.44" y="279.22" font-size="12.74" font-family='"DejaVu Serif", serif' font-style="italic" textLength="9.49" lengthAdjust="spacingAndGlyphs" stroke="#111" stroke-width="0.35">μ</text>
<text x="611.67" y="282.47" font-size="8.55" font-family='"DejaVu Serif", serif' textLength="6.17" lengthAdjust="spacingAndGlyphs" stroke="#111" stroke-width="0.30">0</text>
<text x="588.90" y="310.73" font-size="15.56" font-family='"Liberation Serif", "Times New Roman", serif' stroke="#111" stroke-width="0.20">(c)</text>
</g>
</svg></body></html>
